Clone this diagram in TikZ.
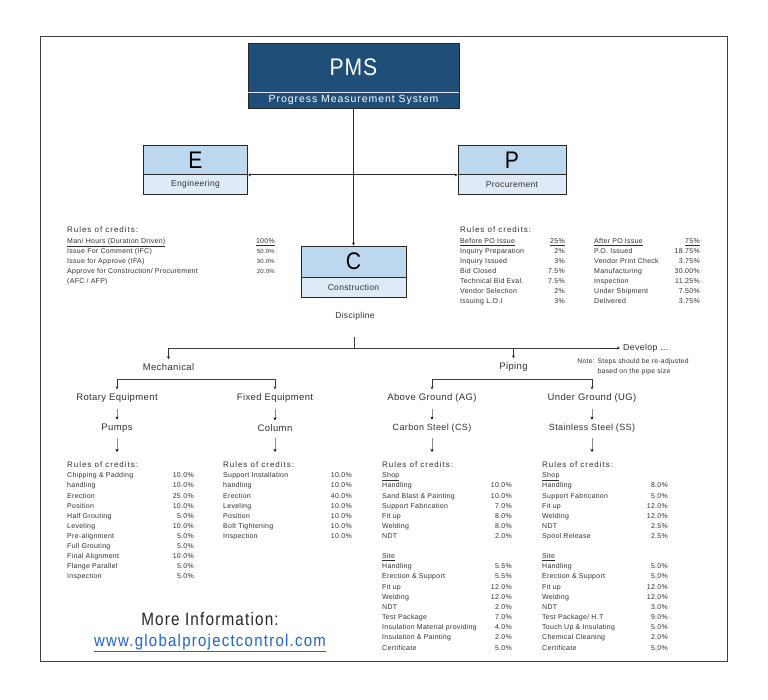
\documentclass[tikz,border=0pt]{standalone}
\usepackage{fontspec}
\usepackage{tikz}
\usetikzlibrary{arrows.meta}
\setmainfont[LetterSpace=4]{Liberation Sans}
\definecolor{navy}{HTML}{1F4E79}
\definecolor{midblue}{HTML}{BDD7EE}
\definecolor{paleblue}{HTML}{DEEAF6}
\definecolor{inktext}{HTML}{303030}
\definecolor{weblink}{HTML}{1F66C8}
\tikzset{
  lettertop/.style={draw=black!85,line width=0.9pt,fill=midblue,inner sep=0pt,font=\fontsize{24}{24}\selectfont\addfontfeature{LetterSpace=0,FakeStretch=0.88}},
  lettersub/.style={draw=black!85,line width=0.9pt,fill=paleblue,inner sep=0pt,text=inktext,font=\fontsize{8.5}{10}\selectfont},
  branch/.style={inner sep=1pt,text=inktext,font=\fontsize{9.5}{11}\selectfont},
  rowtext/.style={inner sep=0pt,anchor=base west,yshift=-2.5pt,text=inktext,font=\fontsize{7}{8}\selectfont},
  rowval/.style={inner sep=0pt,anchor=base east,yshift=-2.5pt,text=inktext,font=\fontsize{7}{8}\selectfont},
  rulestitle/.style={inner sep=0pt,anchor=base west,yshift=-3pt,text=inktext,font=\fontsize{8}{9}\selectfont\addfontfeature{LetterSpace=12}},
  bus/.style={draw=black!75,line width=0.9pt},
  drop/.style={draw=black!80,line width=0.5pt,shorten >=3pt,-{Stealth[length=3pt,width=3pt]}},
  faintdrop/.style={draw=black!45,line width=0.5pt,shorten <=5pt,shorten >=3pt,-{Stealth[length=3pt,width=3pt,black]}},
}
\newcommand{\smallpct}{\fontsize{6}{7}\selectfont}
\newcommand{\credits}[4]{% left x, right x, name, rows
  \foreach \rowy/\rowname/\rowpct [count=\rowi] in {#4} {
    \node[rowtext] (#3l\rowi) at (#1,\rowy) {\rowname};
    \node[rowval] (#3v\rowi) at (#2,\rowy) {\rowpct};
  }
}
\begin{document}
\begin{tikzpicture}[x=1pt,y=-1pt]
\useasboundingbox (0,0) rectangle (768,700);
\fill[white] (0,0) rectangle (768,700);
\draw[black!75,line width=0.9pt] (40,36) rectangle (727,661);

\node[draw=black!85,line width=0.9pt,fill=navy,text=white,inner sep=0pt,minimum width=211pt,minimum height=49pt,font=\fontsize{24}{24}\selectfont\addfontfeature{FakeStretch=0.88}] (pms) at (353.5,67.5) {PMS};
\node[draw=black!85,line width=0.9pt,fill=navy,text=white,inner sep=0pt,minimum width=211pt,minimum height=16pt,font=\fontsize{10.5}{12}\selectfont\addfontfeature{LetterSpace=9}] (pmssub) at (353.5,100) {Progress Measurement System};
\draw[white!85!navy,line width=0.8pt] (pms.south west) -- (pms.south east);

\node[lettertop,minimum width=104pt,minimum height=29pt] (eng) at (195.5,160) {E};
\node[lettersub,minimum width=104pt,minimum height=20pt] (engsub) at (195.5,184.5) {Engineering};
\node[lettertop,minimum width=108pt,minimum height=29pt] (proc) at (512,160) {P};
\node[lettersub,minimum width=108pt,minimum height=20pt] (procsub) at (512,184.5) {Procurement};
\node[lettertop,minimum width=105pt,minimum height=31pt] (con) at (353.5,261.5) {C};
\node[lettersub,minimum width=105pt,minimum height=20pt] (consub) at (353.5,287) {Construction};

\draw[black!85,line width=0.9pt,-{Stealth[length=3pt,width=3pt]}] (pmssub.south) -- (con.north);
\draw[black!85,line width=0.9pt,{Stealth[length=3pt,width=3pt]}-{Stealth[length=3pt,width=3pt]}] (eng.south east) -- (proc.south west);

\node[branch,font=\fontsize{8.5}{10}\selectfont] (disc) at (355,316) {Discipline};
\node[branch] (mech) at (168.5,367) {Mechanical};
\node[branch] (piping) at (513.5,367) {Piping};
\node[branch,anchor=west,inner sep=0pt,font=\fontsize{8.8}{11}\selectfont] (dev) at (623,348) {Develop ...};
\node[inner sep=0pt,align=center,text=inktext,font=\fontsize{6.8}{10}\selectfont] (note) at (633,367) {Note: Steps should be re-adjusted\\\hspace*{2pt}based on the pipe size};

\node[branch] (rot) at (117,398) {Rotary Equipment};
\node[branch] (fix) at (275,398) {Fixed Equipment};
\node[branch] (pumps) at (117,428) {Pumps};
\node[branch] (column) at (275,428) {Column};
\node[branch] (above) at (432,398) {Above Ground (AG)};
\node[branch] (under) at (592,398) {Under Ground (UG)};
\node[branch,font=\fontsize{9}{11}\selectfont] (carbon) at (432,428) {Carbon Steel (CS)};
\node[branch,font=\fontsize{9}{11}\selectfont] (stain) at (592,428) {Stainless Steel (SS)};

\coordinate (tap) at (354,337);
\coordinate (busc) at (354,348);
\coordinate (busl) at (168.5,348);
\coordinate (busp) at (513.5,348);
\coordinate (buse) at (600,348);
\draw[bus] (tap) -- (busc);
\draw[bus] (busl) -- (buse);
\draw[drop] (buse) -- (dev.west);
\draw[drop] (busl) -- (mech.north);
\draw[drop] (busp) -- (piping.north);

\coordinate (mbusl) at (rot |- 0,379);
\coordinate (mbusr) at (fix |- 0,379);
\draw[bus] (mbusl) -- (mbusr);
\draw[drop] (mbusl) -- (rot.north);
\draw[drop] (mbusr) -- (fix.north);
\coordinate (pbusl) at (above |- 0,379);
\coordinate (pbusr) at (under |- 0,379);
\draw[bus] (pbusl) -- (pbusr);
\draw[drop] (pbusl) -- (above.north);
\draw[drop] (pbusr) -- (under.north);

\foreach \upper/\lower in {rot/pumps,fix/column,above/carbon,under/stain}
  \draw[faintdrop] (\upper.south) -- (\lower.north);

\node[rulestitle] (rulesa) at (67,229.5) {Rules of credits:};
\node[rowtext] (mha) at (67,241) {\underline{Man/ Hours (Duration Driven)}};
\node[rowval] (mhv) at (275,241) {\underline{100\%}};
\credits{67}{275}{ea}{251/Issue For Comment (IFC)/{\smallpct 50.0\%},261/Issue for Approve (IFA)/{\smallpct 30.0\%},271/{Approve for Construction/ Procurement}/{\smallpct 20.0\%},281/{(AFC / AFP)}/{}}

\node[rulestitle] (rulesb) at (460,229.5) {Rules of credits:};
\node[rowtext] (bpo) at (460,241) {\underline{Before PO Issue}};
\node[rowval] (bpov) at (565,241) {\underline{25\%}};
\credits{460}{565}{pb}{251/Inquiry Preparation/2\%,261/Inquiry Issued/3\%,271/Bid Closed/7.5\%,281/Technical Bid Eval./7.5\%,291/Vendor Selection/2\%,301/Issuing L.O.I/3\%}
\node[rowtext] (apo) at (594,241) {\underline{After PO Issue}};
\node[rowval] (apov) at (700,241) {\underline{75\%}};
\credits{594}{700}{pa}{251/P.O. Issued/18.75\%,261/Vendor Print Check/3.75\%,271/Manufacturing/30.00\%,281/Inspection/11.25\%,291/Under Shipment/7.50\%,301/Delivered/3.75\%}

\node[rulestitle] (rulesr) at (67,464) {Rules of credits:};
\credits{67}{194}{ro}{474.5/Chipping \& Padding/10.0\%,484.5/handling/10.0\%,495.5/Erection/25.0\%,505.5/Position/10.0\%,515.5/Half Grouting/5.0\%,525.5/Leveling/10.0\%,535.5/Pre-alignment/5.0\%,545.5/Full Grouting/5.0\%,555.5/Final Alignment/10.0\%,565.5/Flange Parallel/5.0\%,575.5/Inspection/5.0\%}

\node[rulestitle] (rulesf) at (223,464) {Rules of credits:};
\credits{223}{352}{fi}{474.5/Support Installation/10.0\%,484.5/handling/10.0\%,495.5/Erection/40.0\%,505.5/Leveling/10.0\%,515.5/Position/10.0\%,525.5/Bolt Tightening/10.0\%,535.5/Inspection/10.0\%}

\node[rulestitle] (rulesc) at (382,464) {Rules of credits:};
\credits{382}{512}{cs}{474.5/\underline{Shop}/{},484.5/Handling/10.0\%,496/Sand Blast \& Painting/10.0\%,506/Support Fabrication/7.0\%,516/Fit up/8.0\%,526/Welding/8.0\%,536/NDT/2.0\%,556/\underline{Site}/{},566/Handling/5.5\%,576/Erection \& Support/5.5\%,587/Fit up/12.0\%,597/Welding/12.0\%,607/NDT/2.0\%,617/Test Package/7.0\%,627/Insulation Material providing/4.0\%,637/Insulation \& Painting/2.0\%,648/Certificate/5.0\%}

\node[rulestitle] (ruless) at (542,464) {Rules of credits:};
\credits{542}{668}{ss}{474.5/\underline{Shop}/{},484.5/Handling/8.0\%,496/Support Fabrication/5.0\%,506/Fit up/12.0\%,516/Welding/12.0\%,526/NDT/2.5\%,536/Spool Release/2.5\%,556/\underline{Site}/{},566/Handling/5.0\%,576/Erection \& Support/5.0\%,587/Fit up/12.0\%,597/Welding/12.0\%,607/NDT/3.0\%,617/{Test Package/ H.T}/9.0\%,627/Touch Up \& Insulating/5.0\%,637/Chemical Cleaning/2.0\%,648/Certificate/5.0\%}

\draw[faintdrop,shorten >=9pt] (pumps.south) -- (pumps |- rulesr.north);
\draw[faintdrop,shorten >=9pt] (column.south) -- (column |- rulesf.north);
\draw[faintdrop,shorten >=9pt] (carbon.south) -- (carbon |- rulesc.north);
\draw[faintdrop,shorten >=9pt] (stain.south) -- (stain |- ruless.north);

\node[inner sep=0pt,text=black!85,font=\fontsize{18}{20}\selectfont\addfontfeature{LetterSpace=6.5,FakeStretch=0.85}] (more) at (210,619) {More Information:};
\node[inner sep=0pt,text=weblink,font=\fontsize{17}{20}\selectfont\addfontfeature{LetterSpace=7.4,FakeStretch=0.88}] (web) at (210,643) {\underline{www.globalprojectcontrol.com}};
\end{tikzpicture}
\end{document}
